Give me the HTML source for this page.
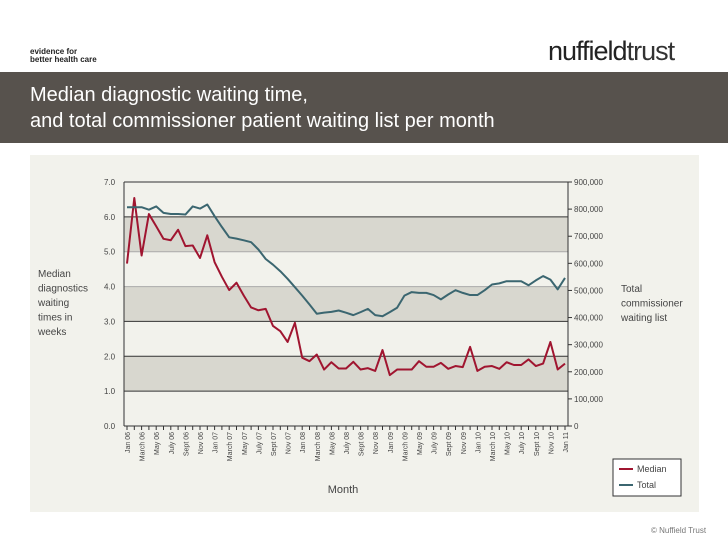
<!DOCTYPE html>
<html><head><meta charset="utf-8"><style>
body{margin:0;width:728px;height:546px;background:#fff;font-family:"Liberation Sans",sans-serif;position:relative;overflow:hidden}
.abs{position:absolute}
</style></head><body>
<div class="abs" style="left:30px;top:48px;font-size:8px;line-height:8px;font-weight:bold;color:#222">evidence for<br>better health care</div>
<div class="abs" style="left:548px;top:36px;font-size:27px;letter-spacing:-1px;color:#222">nuffield<span style="font-weight:300;color:#333">trust</span></div>
<div class="abs" style="left:0;top:72px;width:728px;height:71px;background:#57524d"></div>
<div class="abs" style="left:30px;top:82px;font-size:20px;line-height:26px;color:#fff">Median diagnostic waiting time,<br>and total commissioner patient waiting list per month</div>
<div class="abs" style="left:30px;top:155px;width:669px;height:357px;background:#f2f2ec"></div>
<div class="abs" style="left:651px;top:526px;font-size:8px;color:#777">© Nuffield Trust</div>
<svg class="abs" style="left:0;top:0" width="728" height="546" id="chart"></svg>
<script>
const months=["Jan 06","March 06","May 06","July 06","Sept 06","Nov 06","Jan 07","March 07","May 07","July 07","Sept 07","Nov 07","Jan 08","March 08","May 08","July 08","Sept 08","Nov 08","Jan 09","March 09","May 09","July 09","Sept 09","Nov 09","Jan 10","March 10","May 10","July 10","Sept 10","Nov 10","Jan 11"];
const median=[4.66,6.54,4.89,6.08,5.73,5.37,5.33,5.63,5.16,5.18,4.82,5.47,4.7,4.28,3.9,4.11,3.74,3.4,3.32,3.36,2.87,2.72,2.41,2.96,1.96,1.86,2.05,1.62,1.83,1.65,1.65,1.84,1.62,1.66,1.58,2.18,1.46,1.62,1.62,1.62,1.86,1.7,1.7,1.81,1.64,1.72,1.69,2.27,1.58,1.7,1.72,1.64,1.83,1.75,1.75,1.91,1.72,1.79,2.41,1.62,1.79];
const total=[807,807,807,798,810,786,782,782,780,810,802,817,774,734,696,691,685,678,651,616,595,571,543,512,481,448,414,418,421,426,418,409,420,432,409,405,420,436,481,494,491,491,483,467,485,501,491,483,483,501,522,526,534,534,534,519,537,553,540,504,546];
const leftTicks=["0.0","1.0","2.0","3.0","4.0","5.0","6.0","7.0"];
const rightTicks=["0","100,000","200,000","300,000","400,000","500,000","600,000","700,000","800,000","900,000"];
const svg=document.getElementById('chart');const NS='http://www.w3.org/2000/svg';
const X0=127,X1=565,Y0=426,Y7=182;
const x=i=>X0+(X1-X0)*i/(median.length-1);
const yL=v=>Y0-(Y0-Y7)*v/7;
const yR=v=>Y0-(Y0-Y7)*v/900;
function mk(t,a,txt){const e=document.createElementNS(NS,t);for(const k in a)e.setAttribute(k,a[k]);if(txt!=null)e.textContent=txt;svg.appendChild(e);return e;}
[[5,6],[3,4],[1,2]].forEach(b=>{const e=mk('rect',{x:124,y:yL(b[1]),width:444,height:yL(b[0])-yL(b[1]),fill:'#d8d7cf'});

});
[1,2,3,4,5,6,7].forEach(v=>{const e=mk('line',{x1:124,x2:568,y1:yL(v),y2:yL(v),stroke:(v==4||v==5)?'#aaa':'#333','stroke-width':1});

});
mk('line',{x1:124,x2:124,y1:Y7,y2:Y0,stroke:'#333'});
mk('line',{x1:568,x2:568,y1:Y7,y2:Y0,stroke:'#333'});
mk('line',{x1:124,x2:568,y1:Y0,y2:Y0,stroke:'#333'});
leftTicks.forEach((t,i)=>{const e=mk('text',{x:104,y:yL(i)+3,'font-size':8,fill:'#444'},t);

});
rightTicks.forEach((t,i)=>{mk('line',{x1:568,x2:572,y1:yR(i*100),y2:yR(i*100),stroke:'#333'});const e=mk('text',{x:574,y:yR(i*100)+3,'font-size':8,fill:'#444'},t);

});
for(let i=0;i<median.length;i++){mk('line',{x1:x(i),x2:x(i),y1:Y0,y2:Y0+4,stroke:'#333'});}
months.forEach((m,k)=>{const xx=x(k*2);const e=mk('text',{transform:`translate(${xx+3},${Y0+6}) rotate(-90)`,'text-anchor':'end','font-size':7,fill:'#444'},m);

});
const pm=mk('polyline',{points:median.map((v,i)=>x(i)+','+yL(v)).join(' '),fill:'none',stroke:'#a01530','stroke-width':2,'stroke-linejoin':'round'});


const pt=mk('polyline',{points:total.map((v,i)=>x(i)+','+yR(v)).join(' '),fill:'none',stroke:'#3b6670','stroke-width':2,'stroke-linejoin':'round'});


const lt=mk('text',{'font-size':10,fill:'#444'});


["Median","diagnostics","waiting","times in","weeks"].forEach((s,i)=>{const ts=document.createElementNS(NS,'tspan');ts.setAttribute('x',38);ts.setAttribute('y',277+i*14.5);ts.textContent=s;lt.appendChild(ts);});
const rt=mk('text',{'font-size':10,fill:'#444'});


["Total","commissioner","waiting list"].forEach((s,i)=>{const ts=document.createElementNS(NS,'tspan');ts.setAttribute('x',621);ts.setAttribute('y',292+i*14.5);ts.textContent=s;rt.appendChild(ts);});
const xt=mk('text',{x:343,y:493,'font-size':11,fill:'#444','text-anchor':'middle'},'Month');


const lg=mk('rect',{x:613,y:459,width:68,height:37,fill:'#fff',stroke:'#333'});


mk('line',{x1:619,x2:633,y1:469,y2:469,stroke:'#a01530','stroke-width':2});
const l1=mk('text',{x:637,y:472,'font-size':9,fill:'#444'},'Median');


mk('line',{x1:619,x2:633,y1:485,y2:485,stroke:'#3b6670','stroke-width':2});
const l2=mk('text',{x:637,y:488,'font-size':9,fill:'#444'},'Total');


</script>
</body></html>
